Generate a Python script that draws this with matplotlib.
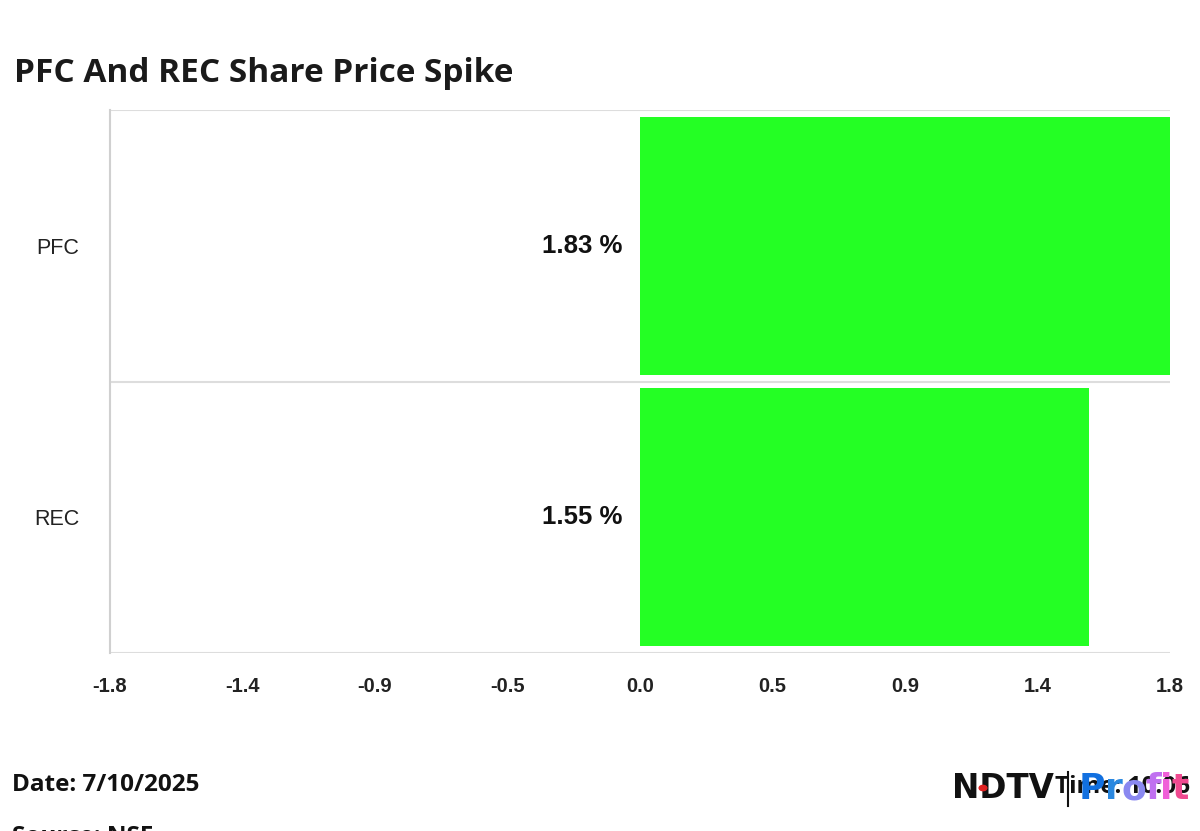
import numpy as np
import matplotlib.pyplot as plt
import matplotlib.transforms as mtransforms
from matplotlib.ticker import FixedLocator, FuncFormatter

# data
stocks = ["PFC", "REC"]
changes = [1.83, 1.55]
bar_color = "#24FF24"
chart_title = "PFC And REC Share Price Spike"
date_text = "Date: 7/10/2025"
time_text = "Time: 10:06"
source_text = "Source: NSE"

fig = plt.figure(figsize=(12, 8.31), dpi=100)
ax = fig.add_axes([110 / 1200, 1 - 653 / 831, 1060 / 1200, 543 / 831])

ypos = np.arange(len(stocks))
ax.barh(ypos, changes, height=0.95, color=bar_color, edgecolor="none", zorder=2)

lim = max(abs(v) for v in changes)
ax.set_xlim(-lim, lim)
ax.set_ylim(len(stocks) - 0.5, -0.5)

ax.xaxis.set_major_locator(FixedLocator(np.linspace(-lim, lim, 9)))
ax.xaxis.set_major_formatter(FuncFormatter(lambda v, p: f"{v:.1f}"))
ax.set_yticks(ypos)
ax.set_yticklabels(stocks, fontsize=15.5, color="#222222", family="Liberation Sans")
shift = mtransforms.ScaledTranslation(0, -7 / 100, fig.dpi_scale_trans)
for lab in ax.get_yticklabels():
    lab.set_transform(lab.get_transform() + shift)
for lab in ax.get_xticklabels():
    lab.set_fontsize(14.5)
    lab.set_fontweight("bold")
    lab.set_family("Liberation Sans")
    lab.set_color("#222222")
ax.tick_params(axis="x", length=0, pad=17)
ax.tick_params(axis="y", length=0, pad=22)

# category boundary lines
for b in np.arange(-0.5, len(stocks), 1.0):
    ax.axhline(b, color="#dddddd", lw=1.5, zorder=1)
for s in ["top", "right", "bottom"]:
    ax.spines[s].set_visible(False)
ax.spines["left"].set_color("#d0d0d0")
ax.spines["left"].set_linewidth(1.5)

# value labels
for y, v in zip(ypos, changes):
    ax.annotate(f"{v:.2f} %", xy=(0, y), xytext=(-13, 0), textcoords="offset points",
                ha="right", va="center", fontsize=18.5, fontweight="bold",
                family="Liberation Sans", color="#111111")

fig.text(14 / 1200, 1 - 73 / 831, chart_title, fontsize=24, fontweight="bold",
         family="Open Sans", color="#1a1a1a", va="center")

fig.text(12 / 1200, 1 - 791 / 831, date_text, fontsize=17.5, fontweight="bold",
         family="Open Sans", color="#111111", va="baseline")
fig.text(12 / 1200, 1 - 843 / 831, source_text, fontsize=17.5, fontweight="bold",
         family="Open Sans", color="#111111", va="baseline")
fig.text(1190 / 1200, 1 - 793 / 831, time_text, fontsize=17.5, fontweight="bold",
         family="Open Sans", color="#111111", va="baseline", ha="right", zorder=1)

# logo
fig.text(952 / 1200, 1 - 788 / 831, "NDTV", fontsize=23.5, fontweight="bold",
         family="DejaVu Sans", color="#111111", va="center", zorder=3)
fig.patches.append(plt.Circle((983 / 1200, 1 - 788 / 831), 0.0032, color="#e02020",
                              transform=fig.transFigure, zorder=4))
fig.lines.append(plt.Line2D([1068 / 1200, 1068 / 1200], [1 - 772 / 831, 1 - 806 / 831],
                            transform=fig.transFigure, color="#111111", lw=1.5, zorder=3))
profit_colors = ["#1270e0", "#2a88e0", "#8a88f0", "#c070f0", "#f060d8", "#f04a90"]
renderer = fig.canvas.get_renderer()
x0 = 1079
for ch, c in zip("Profit", profit_colors):
    t = fig.text(x0 / 1200, 1 - 789 / 831, ch, fontsize=26, fontweight="bold",
                 family="DejaVu Sans", color=c, va="center", zorder=3)
    x0 = t.get_window_extent(renderer).x1 - 1

fig.savefig("out.png", dpi=100, facecolor="white")
